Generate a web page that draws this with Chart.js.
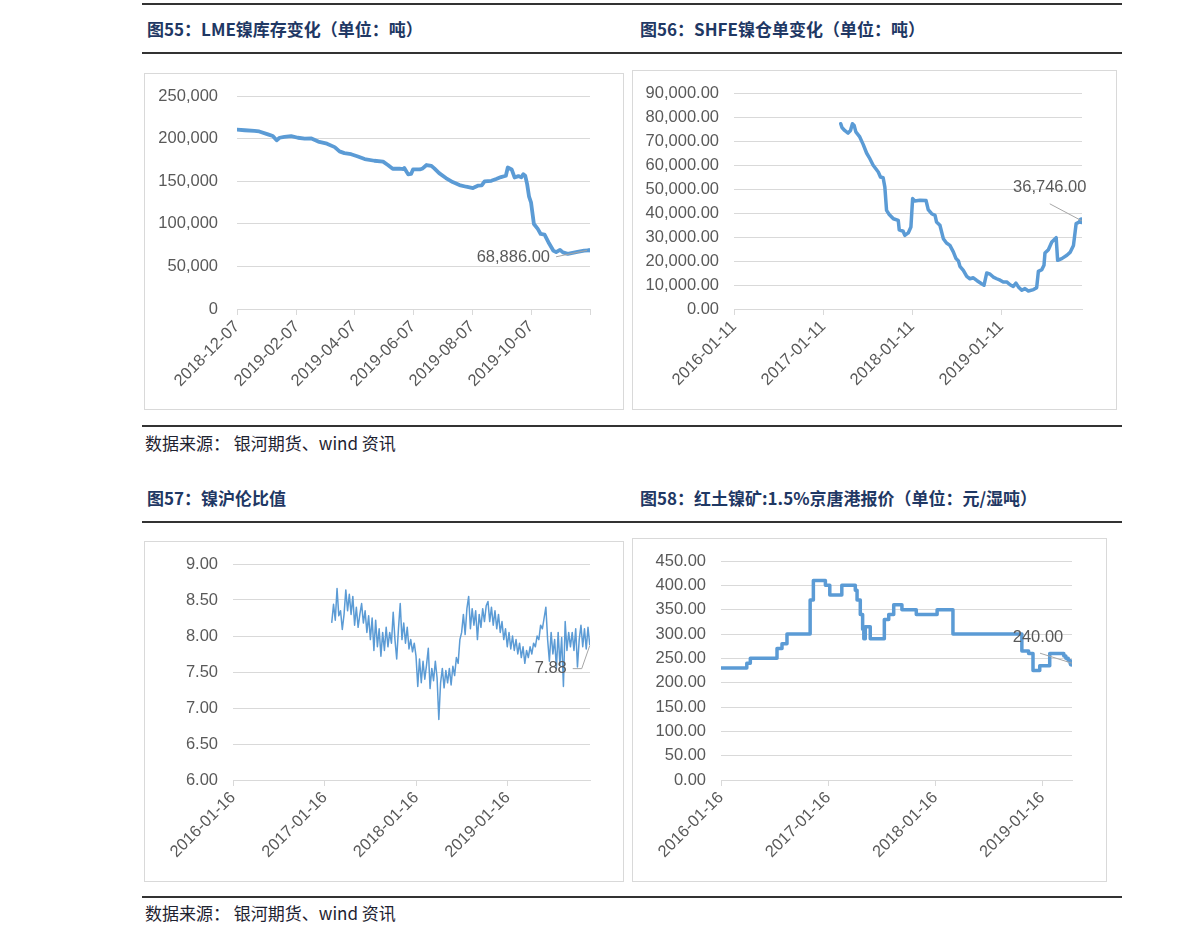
<!DOCTYPE html>
<html lang="zh-CN">
<head>
<meta charset="utf-8">
<title>镍库存与价格</title>
<script src="https://cdn.jsdelivr.net/npm/chart.js@4.4.0/dist/chart.umd.min.js"></script>
<style>
  html, body { margin: 0; padding: 0; background: #fff; }
  body { width: 1191px; height: 944px; position: relative; overflow: hidden; font-family: "Noto Sans CJK SC", sans-serif; }
  .rule { position: absolute; left: 142px; width: 980px; height: 2px; background: #333; }
  .title { position: absolute; font-size: 17px; font-weight: bold; color: #1f3864; line-height: 20px; white-space: nowrap; }
  .src { position: absolute; left: 145px; font-size: 17px; color: #1e2230; line-height: 20px; white-space: nowrap; }
  .box { position: absolute; border: 1px solid #d9d9d9; }
  .box canvas { display: block; }
</style>
</head>
<body>
<div class="rule" style="top:3px"></div>
<div class="title" style="left:147px;top:19px">图55：LME镍库存变化（单位：吨）</div>
<div class="title" style="left:640px;top:19px">图56：SHFE镍仓单变化（单位：吨）</div>
<div class="rule" style="top:52px"></div>

<div class="box" style="left:144px;top:73px"><canvas id="lmeChart" width="478" height="335"></canvas></div>
<div class="box" style="left:632px;top:70px"><canvas id="shfeChart" width="483" height="338"></canvas></div>

<div class="rule" style="top:425px"></div>
<div class="src" style="top:433px">数据来源： 银河期货、wind 资讯</div>

<div class="title" style="left:147px;top:488px">图57：镍沪伦比值</div>
<div class="title" style="left:640px;top:488px">图58：红土镍矿:1.5%京唐港报价（单位：元/湿吨）</div>
<div class="rule" style="top:521px"></div>

<div class="box" style="left:144px;top:541px"><canvas id="ratioChart" width="478" height="339"></canvas></div>
<div class="box" style="left:632px;top:538px"><canvas id="oreChart" width="473" height="342"></canvas></div>

<div class="rule" style="top:896px"></div>
<div class="src" style="top:903px">数据来源： 银河期货、wind 资讯</div>

<script>
// ---------- 图55 LME镍库存（吨）
const lmeDates = ['2018-12-07','2018-12-15','2018-12-25','2018-12-30','2019-01-08','2019-01-13','2019-01-17','2019-01-20','2019-01-25','2019-02-01',
  '2019-02-08','2019-02-15','2019-02-22','2019-03-01','2019-03-10','2019-03-18','2019-03-23','2019-03-28','2019-04-04','2019-04-11',
  '2019-04-18','2019-04-28','2019-05-07','2019-05-12','2019-05-17','2019-05-24','2019-05-28','2019-05-29','2019-06-02','2019-06-05',
  '2019-06-07','2019-06-14','2019-06-17','2019-06-21','2019-06-26','2019-06-29','2019-07-04','2019-07-11','2019-07-18','2019-07-25',
  '2019-08-01','2019-08-08','2019-08-13','2019-08-17','2019-08-20','2019-08-27','2019-09-01','2019-09-06','2019-09-11','2019-09-13',
  '2019-09-17','2019-09-20','2019-09-24','2019-09-27','2019-09-29','2019-10-01','2019-10-03','2019-10-05','2019-10-07','2019-10-10',
  '2019-10-14','2019-10-17','2019-10-21','2019-10-25','2019-10-30','2019-11-02','2019-11-06','2019-11-09','2019-11-14','2019-11-19',
  '2019-11-24','2019-12-01','2019-12-06'];
const lmeValues = [210600,209800,209000,208400,205000,203000,198000,201000,202000,203000,
  201000,200000,200200,196500,194000,190000,185000,183000,181700,179000,
  176000,174000,173000,169000,164600,164800,164200,165500,158000,158500,
  163800,163800,165000,169000,168000,165000,159500,153700,149000,145500,
  143500,142000,144700,145000,149800,150500,152500,154800,156400,166100,
  163800,154400,156000,154500,158300,156500,146600,131800,125200,99800,
  94000,88100,87400,78400,68600,66700,69400,66500,64700,65900,
  67000,68600,68886];
const lmeTicks = ['2018-12-07','2019-02-07','2019-04-07','2019-06-07','2019-08-07','2019-10-07'];

// ---------- 图56 SHFE镍仓单（吨）
const shfeDates = ['2017-03-24','2017-03-29','2017-04-09','2017-04-23','2017-05-03','2017-05-11','2017-05-18','2017-05-25','2017-06-10','2017-06-24',
  '2017-07-08','2017-07-19','2017-08-04','2017-08-25','2017-09-03','2017-09-14','2017-09-21','2017-09-28','2017-10-09','2017-10-26',
  '2017-11-15','2017-11-19','2017-12-05','2017-12-12','2017-12-26','2018-01-06','2018-01-13','2018-01-22','2018-02-12','2018-03-09',
  '2018-03-18','2018-04-01','2018-04-15','2018-04-21','2018-05-05','2018-05-19','2018-06-01','2018-06-15','2018-06-29','2018-07-10',
  '2018-07-20','2018-07-26','2018-08-09','2018-08-23','2018-09-05','2018-09-19','2018-10-03','2018-10-23','2018-11-02','2018-11-13',
  '2018-11-27','2018-12-10','2018-12-24','2019-01-07','2019-01-20','2019-02-03','2019-02-17','2019-03-02','2019-03-13','2019-03-23',
  '2019-04-06','2019-04-19','2019-05-03','2019-05-24','2019-06-06','2019-06-13','2019-06-27','2019-07-06','2019-07-10','2019-07-24',
  '2019-08-07','2019-08-25','2019-08-31','2019-09-17','2019-10-08','2019-10-22','2019-11-04','2019-11-15','2019-11-29','2019-12-08'];
const shfeValues = [77200,75600,74400,73300,74400,77200,76500,73800,71700,68600,
  65000,63100,59900,57100,55000,54700,50800,41100,39400,37600,
  36900,33000,32400,30700,31700,34200,46000,45000,45300,45200,
  41400,39700,39000,36300,34900,29300,27500,26500,23800,21000,
  20000,17800,16100,13600,12600,13000,11900,10500,9900,15000,
  14500,13300,12600,12000,11200,11300,10100,9400,10800,9200,
  7800,8500,7500,8100,8900,15700,16400,18200,23300,24700,
  27900,29700,20300,21000,22400,23700,26500,35600,36300,36746];
const shfeTicks = ['2016-01-11','2017-01-11','2018-01-11','2019-01-11'];

// ---------- 图57 镍沪伦比值（周度读数）
const ratioStart = '2017-02-13';
const ratioStepDays = 7;
const ratioValues = [8.19,8.44,8.22,8.66,8.28,8.35,8.09,8.30,8.64,8.35,
  8.58,8.30,8.55,8.15,8.40,8.12,8.30,8.45,8.18,8.35,
  8.05,8.28,7.95,8.25,7.80,8.22,7.85,8.10,7.72,8.05,
  7.80,8.12,7.85,8.05,7.90,8.33,7.95,7.68,8.10,8.45,
  7.95,8.18,7.90,8.12,7.82,7.95,7.78,7.90,7.72,7.30,
  7.68,7.35,7.65,7.40,7.60,7.83,7.27,7.55,7.38,7.65,
  7.42,6.84,7.35,7.55,7.28,7.52,7.35,7.55,7.32,7.58,
  7.45,7.70,7.62,7.95,8.05,8.30,8.02,8.38,8.55,8.10,
  8.38,8.15,8.35,7.95,8.30,8.12,8.38,8.20,8.42,8.48,
  8.20,8.40,8.15,8.35,8.10,8.30,8.05,8.20,7.95,8.10,
  7.85,8.05,7.82,8.00,7.80,7.95,7.75,7.90,7.70,7.85,
  7.62,7.80,7.70,7.85,7.75,7.90,7.85,8.00,7.95,8.15,
  8.10,8.25,8.40,7.95,7.65,8.05,7.75,7.95,7.55,8.05,
  7.60,7.98,7.30,8.20,7.80,8.05,7.85,8.05,7.80,8.10,
  7.57,7.95,8.15,7.85,8.10,7.82,8.12,7.88];
const ratioTicks = ['2016-01-16','2017-01-16','2018-01-16','2019-01-16'];

// ---------- 图58 红土镍矿 1.5% 京唐港（元/湿吨），价格变动日
const oreDates = ['2016-01-16','2016-04-13','2016-04-25','2016-07-25','2016-08-11','2016-08-28','2016-11-15','2016-11-26','2017-01-06','2017-01-21',
  '2017-03-03','2017-04-18','2017-04-24','2017-05-05','2017-05-13','2017-05-17','2017-05-22','2017-06-08','2017-07-26','2017-08-10',
  '2017-08-27','2017-09-24','2017-11-12','2018-01-22','2018-03-17','2018-11-07','2018-11-30','2018-12-15','2019-01-07','2019-02-10',
  '2019-03-30','2019-04-06','2019-04-14','2019-04-22','2019-04-27'];
const oreValues = [230,240,250,270,280,300,370,410,400,380,
  400,390,370,340,310,290,315,290,330,340,
  360,350,340,350,300,265,260,225,235,260,
  255,250,245,240,240];
const oreTicks = ['2016-01-16','2017-01-16','2018-01-16','2019-01-16'];

// =============================
// 公共设置
// =============================
const BLUE = '#5b9bd5';
const GREY_TEXT = '#595959';
const GRID = '#d9d9d9';
const tickFont = { family: '"Liberation Sans", Arial, sans-serif', size: 16.5 };
// y轴标签行高压小，避免它把绘图区顶部往下挤
const yTickFont = { ...tickFont, lineHeight: 0.2 };

function toDay(s) {
  const [y, m, d] = s.split('-').map(Number);
  return Date.UTC(y, m - 1, d) / 864e5;
}

function fmtDay(n) {
  return new Date(n * 864e5).toISOString().slice(0, 10);
}

// 末点数据标签 + 引导线
function endLabel(text, o) {
  return {
    id: 'endLabel',
    afterDatasetsDraw(chart) {
      const p = chart.getDatasetMeta(0).data.at(-1);
      const ctx = chart.ctx;
      ctx.save();
      ctx.strokeStyle = '#a6a6a6';
      ctx.lineWidth = 1;
      ctx.beginPath();
      o.leader.forEach(([dx, dy], i) => i ? ctx.lineTo(p.x + dx, p.y + dy) : ctx.moveTo(p.x + dx, p.y + dy));
      ctx.stroke();
      ctx.font = '16.5px "Liberation Sans", Arial, sans-serif';
      ctx.fillStyle = GREY_TEXT;
      ctx.textAlign = o.align;
      ctx.textBaseline = 'middle';
      ctx.fillText(text, p.x + o.dx, p.y + o.dy);
      ctx.restore();
    }
  };
}

function drawLine(id, c) {
  const pts = c.dates.map((d, i) => ({ x: toDay(d), y: c.values[i] }));
  const tickDays = c.ticks.map(toDay).concat((c.blankTicks || []).map(toDay));
  const labelMap = new Map(c.ticks.map(t => [toDay(t), t]));
  const last = pts.length - 1;

  return new Chart(document.getElementById(id), {
    type: 'line',
    data: {
      datasets: [{
        data: pts,
        borderColor: BLUE,
        backgroundColor: BLUE,
        borderWidth: c.lineWidth,
        stepped: c.stepped || false,
        tension: 0,
        borderJoinStyle: 'round',
        borderCapStyle: 'round',
        pointRadius: ctx => ctx.dataIndex === last ? c.dot : 0,
        pointBorderWidth: 0,
        pointBackgroundColor: BLUE
      }]
    },
    options: {
      responsive: false,
      animation: false,
      layout: { padding: { top: c.padTop, right: c.padRight, left: 0, bottom: 0 } },
      plugins: { legend: { display: false }, tooltip: { enabled: false } },
      scales: {
        x: {
          type: 'linear',
          min: toDay(c.xMin),
          max: toDay(c.xMax),
          afterBuildTicks: s => { s.ticks = tickDays.map(v => ({ value: v })); },
          afterFit: s => { s.height = c.xHeight; },
          grid: { drawOnChartArea: false, drawTicks: true, tickLength: 6, color: GRID },
          border: { color: GRID },
          ticks: {
            autoSkip: false, maxRotation: 45, minRotation: 45, padding: 2,
            color: GREY_TEXT, font: tickFont,
            callback: v => labelMap.get(v) ?? ''
          }
        },
        y: {
          min: c.yMin, max: c.yMax,
          afterFit: s => { s.width = c.yWidth; },
          grid: { color: GRID, drawTicks: false },
          border: { display: false },
          ticks: { stepSize: c.yStep, padding: c.yPad, color: GREY_TEXT, font: yTickFont, callback: c.yFmt }
        }
      }
    },
    plugins: [endLabel(c.label, c.labelPos)]
  });
}

const money = v => v.toLocaleString('en-US', { minimumFractionDigits: 2, maximumFractionDigits: 2 });

// 图55
drawLine('lmeChart', {
  dates: lmeDates, values: lmeValues, ticks: lmeTicks, blankTicks: ['2019-12-07'],
  xMin: '2018-12-07', xMax: '2019-12-07',
  yMin: 0, yMax: 250000, yStep: 50000, yFmt: v => v.toLocaleString('en-US'),
  padTop: 22, padRight: 33, yWidth: 92, xHeight: 100, yPad: 19,
  lineWidth: 3.8, dot: 2,
  label: money(lmeValues.at(-1)),
  labelPos: { align: 'right', dx: -39, dy: 7.5, leader: [[-33, 6.5], [-2, 0]] }
});

// 图56
drawLine('shfeChart', {
  dates: shfeDates, values: shfeValues, ticks: shfeTicks,
  xMin: '2016-01-11', xMax: '2019-12-09',
  yMin: 0, yMax: 90000, yStep: 10000, yFmt: money,
  padTop: 22, padRight: 34, yWidth: 101, xHeight: 100, yPad: 15,
  lineWidth: 3.5, dot: 3.5,
  label: money(shfeValues.at(-1)),
  labelPos: { align: 'center', dx: -32, dy: -33.5, leader: [[-32, -17], [0, 0]] }
});

// 图57
const ratioDates = ratioValues.map((_, i) => fmtDay(toDay(ratioStart) + i * ratioStepDays));
drawLine('ratioChart', {
  dates: ratioDates, values: ratioValues, ticks: ratioTicks,
  xMin: '2016-01-16', xMax: '2019-12-10',
  yMin: 6, yMax: 9, yStep: 0.5, yFmt: v => v.toFixed(2),
  padTop: 22, padRight: 33, yWidth: 88, xHeight: 101, yPad: 15,
  lineWidth: 1.5, dot: 0,
  label: ratioValues.at(-1).toFixed(2),
  labelPos: { align: 'right', dx: -23, dy: 24, leader: [[-17, 24], [-8, 24], [0, 1]] }
});

// 图58
drawLine('oreChart', {
  dates: oreDates, values: oreValues, ticks: oreTicks, stepped: true,
  xMin: '2016-01-16', xMax: '2019-04-27',
  yMin: 0, yMax: 450, yStep: 50, yFmt: v => v.toFixed(2),
  padTop: 22, padRight: 34, yWidth: 88, xHeight: 101, yPad: 15,
  lineWidth: 3.5, dot: 3.5,
  label: oreValues.at(-1).toFixed(2),
  labelPos: { align: 'center', dx: -34, dy: -26, leader: [[-32, -10], [0, 0]] }
});
</script>
</body>
</html>
